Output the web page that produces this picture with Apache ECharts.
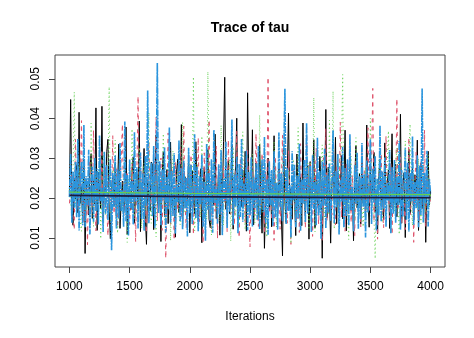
<!DOCTYPE html>
<html>
<head>
<meta charset="utf-8">
<script src="https://cdn.jsdelivr.net/npm/echarts@6/dist/echarts.min.js"></script>
<style>
html,body{margin:0;padding:0;background:#fff;}
#chart{width:474px;height:338px;}
</style>
</head>
<body>
<div id="chart"></div>
<script>
// Thinned trace: one value every 10 iterations from 1000 to 4000
const iterStart = 1000;
const iterStep = 10;

const chain1 = [
0.0215,0.0448,0.0176,0.0132,0.0251,0.0198,0.0284,0.0163,0.0416,0.0187,
0.0229,0.0142,0.0296,0.0061,0.0234,0.0205,0.0158,0.0271,0.0312,0.0149,
0.0243,0.0186,0.0427,0.0119,0.0265,0.0211,0.0173,0.0431,0.0143,0.0226,
0.0207,0.0318,0.0348,0.0167,0.0098,0.0221,0.0256,0.0181,0.0287,0.0152,
0.0233,0.0336,0.0124,0.0195,0.0243,0.0162,0.0189,0.0379,0.0109,0.0214,
0.0228,0.0171,0.0264,0.0304,0.0137,0.0219,0.0262,0.0184,0.0394,0.0116,
0.0198,0.0247,0.0325,0.0156,0.0084,0.0247,0.0203,0.0168,0.0291,0.0283,
0.0121,0.0236,0.0359,0.0192,0.0174,0.0238,0.0091,0.0257,0.0316,0.0154,
0.0208,0.0272,0.0136,0.0224,0.0341,0.0183,0.0199,0.0226,0.0102,0.0268,
0.0298,0.0164,0.0212,0.0385,0.0129,0.0241,0.0254,0.0176,0.0193,0.0308,
0.0113,0.0227,0.0269,0.0197,0.0161,0.0342,0.0216,0.0141,0.0231,0.0274,
0.0088,0.0209,0.0277,0.0186,0.0239,0.0322,0.0147,0.0126,0.0245,0.0202,
0.0182,0.0361,0.0149,0.0213,0.0266,0.0107,0.0259,0.0188,0.0342,0.0504,
0.0172,0.0222,0.0294,0.0161,0.0204,0.0336,0.0122,0.0238,0.0276,0.0401,
0.0144,0.0218,0.0253,0.0179,0.0271,0.0192,0.0318,0.0117,0.0465,0.0249,
0.0166,0.0211,0.0372,0.0133,0.0221,0.0289,0.0185,0.0154,0.0335,0.0206,
0.0112,0.0262,0.0074,0.0187,0.0231,0.0301,0.0173,0.0246,0.0128,0.0219,
0.0357,0.0195,0.0233,0.0159,0.0284,0.0214,0.0158,0.0055,0.0326,0.0191,
0.0139,0.0267,0.0414,0.0178,0.0224,0.0147,0.0252,0.0201,0.0106,0.0311,
0.0179,0.0236,0.0253,0.0131,0.0389,0.0194,0.0163,0.0236,0.0283,0.0097,
0.0292,0.0184,0.0217,0.0347,0.0125,0.0258,0.0199,0.0169,0.0305,0.0238,
0.0049,0.0241,0.0196,0.0423,0.0151,0.0278,0.0213,0.0087,0.0232,0.0266,
0.0196,0.0353,0.0136,0.0264,0.0182,0.0218,0.0307,0.0148,0.0229,0.0371,
0.0118,0.0246,0.0203,0.0285,0.0169,0.0226,0.0093,0.0251,0.0332,0.0176,
0.0214,0.0262,0.0135,0.0298,0.0187,0.0242,0.0156,0.0384,0.0201,0.0127,
0.0273,0.0191,0.0233,0.0315,0.0164,0.0208,0.0111,0.0256,0.0295,0.0181,
0.0224,0.0146,0.0339,0.0197,0.0235,0.0271,0.0124,0.0218,0.0362,0.0172,
0.0206,0.0285,0.0153,0.0243,0.0189,0.0411,0.0137,0.0229,0.0264,0.0101,
0.0248,0.0193,0.0323,0.0161,0.0217,0.0277,0.0145,0.0259,0.0202,0.0346,
0.0119,0.0231,0.0288,0.0174,0.0212,0.0263,0.0089,0.0244,0.0318,0.0183,
0.0218];

const chain2 = [
0.0187,0.0226,0.0263,0.0154,0.0121,0.0348,0.0203,0.0172,0.0241,0.0229,
0.0395,0.0168,0.0139,0.0254,0.0217,0.0083,0.0271,0.0296,0.0182,0.0165,
0.0371,0.0209,0.0118,0.0247,0.0241,0.0193,0.0199,0.0322,0.0146,0.0235,
0.0278,0.0174,0.0106,0.0258,0.0233,0.0188,0.0357,0.0161,0.0212,0.0274,
0.0127,0.0241,0.0219,0.0302,0.0386,0.0157,0.0152,0.0243,0.0267,0.0196,
0.0134,0.0228,0.0288,0.0176,0.0213,0.0091,0.0264,0.0456,0.0205,0.0317,
0.0183,0.0205,0.0263,0.0143,0.0113,0.0252,0.0339,0.0182,0.0221,0.0169,
0.0301,0.0251,0.0404,0.0143,0.0226,0.0192,0.0301,0.0119,0.0268,0.0236,
0.0049,0.0188,0.0364,0.0214,0.0131,0.0237,0.0273,0.0095,0.0292,0.0208,
0.0171,0.0249,0.0328,0.0154,0.0212,0.0381,0.0186,0.0126,0.0249,0.0231,
0.0163,0.0309,0.0197,0.0108,0.0276,0.0224,0.0195,0.0352,0.0141,0.0228,
0.0259,0.0087,0.0314,0.0207,0.0178,0.0259,0.0397,0.0166,0.0123,0.0244,
0.0216,0.0167,0.0331,0.0099,0.0283,0.0238,0.0206,0.0149,0.0277,0.0185,
0.0238,0.0116,0.0346,0.0211,0.0159,0.0271,0.0201,0.0132,0.0223,0.0368,
0.0181,0.0101,0.0297,0.0227,0.0174,0.0256,0.0138,0.0219,0.0325,0.0192,
0.0078,0.0245,0.0281,0.0173,0.0157,0.0362,0.0215,0.0129,0.0247,0.0183,
0.0313,0.0221,0.0111,0.0266,0.0201,0.0504,0.0162,0.0234,0.0145,0.0235,
0.0094,0.0305,0.0213,0.0168,0.0274,0.0122,0.0239,0.0358,0.0189,0.0209,
0.0252,0.0137,0.0319,0.0226,0.0084,0.0229,0.0275,0.0175,0.0198,0.0148,
0.0261,0.0114,0.0337,0.0193,0.0245,0.0208,0.0126,0.0383,0.0162,0.0227,
0.0289,0.0217,0.0104,0.0289,0.0171,0.0326,0.0203,0.0135,0.0248,0.0224,
0.0092,0.0302,0.0186,0.0375,0.0144,0.0231,0.0264,0.0197,0.0158,0.0316,
0.0212,0.0133,0.0279,0.0241,0.0168,0.0391,0.0152,0.0236,0.0205,0.0117,
0.0286,0.0194,0.0221,0.0343,0.0139,0.0258,0.0177,0.0106,0.0293,0.0216,
0.0186,0.0241,0.0128,0.0327,0.0203,0.0269,0.0155,0.0232,0.0377,0.0164,
0.0219,0.0292,0.0476,0.0142,0.0254,0.0191,0.0097,0.0268,0.0229,0.0312,
0.0173,0.0126,0.0249,0.0356,0.0197,0.0222,0.0151,0.0287,0.0109,0.0238,
0.0265,0.0184,0.0450,0.0171,0.0217,0.0303,0.0136,0.0246,0.0199,0.0121,
0.0274,0.0225,0.0352,0.0158,0.0191,0.0263,0.0089,0.0238,0.0316,0.0182,
0.0207,0.0146,0.0295,0.0232,0.0176,0.0371,0.0129,0.0253,0.0214,0.0188,
0.0197];

const chain3 = [
0.0224,0.0187,0.0153,0.0262,0.0467,0.0179,0.0196,0.0241,0.0284,0.0139,
0.0117,0.0258,0.0337,0.0201,0.0172,0.0226,0.0241,0.0165,0.0389,0.0208,
0.0129,0.0245,0.0263,0.0192,0.0186,0.0311,0.0098,0.0227,0.0315,0.0174,
0.0158,0.0236,0.0227,0.0480,0.0141,0.0218,0.0272,0.0195,0.0346,0.0163,
0.0112,0.0239,0.0253,0.0187,0.0167,0.0274,0.0304,0.0209,0.0089,0.0248,
0.0237,0.0182,0.0374,0.0215,0.0148,0.0261,0.0216,0.0138,0.0328,0.0197,
0.0124,0.0252,0.0289,0.0171,0.0179,0.0296,0.0416,0.0184,0.0137,0.0233,
0.0245,0.0161,0.0103,0.0279,0.0297,0.0192,0.0183,0.0249,0.0362,0.0144,
0.0151,0.0226,0.0228,0.0332,0.0093,0.0214,0.0319,0.0187,0.0174,0.0259,
0.0266,0.0156,0.0133,0.0272,0.0391,0.0198,0.0162,0.0231,0.0239,0.0178,
0.0287,0.0209,0.0221,0.0505,0.0118,0.0203,0.0287,0.0244,0.0194,0.0152,
0.0356,0.0221,0.0168,0.0243,0.0146,0.0518,0.0221,0.0171,0.0107,0.0264,
0.0308,0.0193,0.0169,0.0236,0.0257,0.0142,0.0383,0.0207,0.0132,0.0251,
0.0244,0.0183,0.0187,0.0298,0.0092,0.0226,0.0329,0.0179,0.0155,0.0266,
0.0273,0.0132,0.0206,0.0242,0.0367,0.0187,0.0121,0.0234,0.0249,0.0161,
0.0176,0.0277,0.0311,0.0203,0.0138,0.0219,0.0232,0.0148,0.0409,0.0196,
0.0164,0.0249,0.0285,0.0181,0.0102,0.0236,0.0258,0.0211,0.0191,0.0141,
0.0343,0.0224,0.0127,0.0268,0.0236,0.0185,0.0179,0.0302,0.0321,0.0157,
0.0145,0.0239,0.0269,0.0201,0.0086,0.0253,0.0298,0.0164,0.0202,0.0231,
0.0377,0.0174,0.0134,0.0246,0.0251,0.0197,0.0168,0.0285,0.0292,0.0121,
0.0292,0.0218,0.0193,0.0453,0.0115,0.0229,0.0243,0.0176,0.0185,0.0267,
0.0334,0.0197,0.0149,0.0238,0.0227,0.0158,0.0396,0.0211,0.0185,0.0469,
0.0123,0.0244,0.0261,0.0172,0.0177,0.0309,0.0318,0.0511,0.0139,0.0236,
0.0248,0.0181,0.0096,0.0275,0.0306,0.0204,0.0192,0.0143,0.0352,0.0229,
0.0157,0.0263,0.0234,0.0189,0.0128,0.0252,0.0279,0.0167,0.0183,0.0214,
0.0401,0.0218,0.0265,0.0152,0.0048,0.0247,0.0171,0.0293,0.0313,0.0186,
0.0142,0.0238,0.0254,0.0198,0.0198,0.0369,0.0215,0.0116,0.0256,0.0238,
0.0166,0.0284,0.0327,0.0173,0.0109,0.0242,0.0276,0.0207,0.0189,0.0344,
0.0153,0.0229,0.0229,0.0386,0.0172,0.0131,0.0261,0.0262,0.0193,0.0174,
0.0299,0.0222,0.0136,0.0257,0.0284,0.0188,0.0164,0.0231,0.0309,0.0178,
0.0208];

const chain4 = [
0.0203,0.0312,0.0138,0.0267,0.0176,0.0291,0.0152,0.0349,0.0119,0.0238,
0.0291,0.0132,0.0384,0.0127,0.0255,0.0183,0.0322,0.0109,0.0246,0.0279,
0.0141,0.0301,0.0167,0.0274,0.0134,0.0358,0.0192,0.0226,0.0115,0.0317,
0.0161,0.0283,0.0145,0.0236,0.0298,0.0069,0.0263,0.0178,0.0307,0.0124,
0.0272,0.0149,0.0339,0.0168,0.0219,0.0128,0.0393,0.0142,0.0258,0.0106,
0.0297,0.0175,0.0244,0.0133,0.0366,0.0191,0.0278,0.0124,0.0231,0.0315,
0.0148,0.0262,0.0118,0.0306,0.0181,0.0471,0.0137,0.0237,0.0289,0.0154,
0.0331,0.0126,0.0249,0.0540,0.0163,0.0293,0.0131,0.0272,0.0196,0.0328,
0.0114,0.0253,0.0172,0.0378,0.0139,0.0268,0.0155,0.0313,0.0111,0.0234,
0.0189,0.0345,0.0143,0.0276,0.0122,0.0294,0.0174,0.0251,0.0104,0.0327,
0.0162,0.0285,0.0135,0.0223,0.0361,0.0149,0.0279,0.0117,0.0256,0.0185,
0.0309,0.0128,0.0241,0.0093,0.0336,0.0171,0.0264,0.0144,0.0298,0.0113,
0.0372,0.0188,0.0229,0.0136,0.0285,0.0159,0.0321,0.0107,0.0248,0.0193,
0.0342,0.0125,0.0271,0.0166,0.0233,0.0398,0.0132,0.0259,0.0179,0.0304,
0.0112,0.0286,0.0153,0.0349,0.0141,0.0237,0.0184,0.0319,0.0119,0.0266,
0.0158,0.0303,0.0129,0.0252,0.0175,0.0287,0.0146,0.0331,0.0122,0.0214,
0.0297,0.0165,0.0354,0.0138,0.0247,0.0108,0.0293,0.0183,0.0271,0.0131,
0.0318,0.0152,0.0239,0.0121,0.0365,0.0177,0.0262,0.0142,0.0305,0.0475,
0.0134,0.0275,0.0168,0.0233,0.0102,0.0318,0.0195,0.0284,0.0127,0.0257,
0.0149,0.0337,0.0118,0.0246,0.0186,0.0296,0.0139,0.0389,0.0161,0.0224,
0.0281,0.0115,0.0308,0.0173,0.0242,0.0132,0.0352,0.0156,0.0269,0.0098,
0.0292,0.0181,0.0324,0.0124,0.0258,0.0163,0.0287,0.0143,0.0235,0.0371,
0.0137,0.0268,0.0177,0.0311,0.0109,0.0245,0.0192,0.0329,0.0126,0.0276,
0.0155,0.0298,0.0131,0.0361,0.0169,0.0228,0.0117,0.0283,0.0186,0.0314,
0.0123,0.0256,0.0147,0.0339,0.0178,0.0261,0.0101,0.0295,0.0164,0.0232,
0.0348,0.0135,0.0274,0.0188,0.0306,0.0119,0.0249,0.0157,0.0383,0.0141,
0.0267,0.0173,0.0302,0.0128,0.0239,0.0194,0.0321,0.0112,0.0278,0.0161,
0.0296,0.0138,0.0253,0.0182,0.0344,0.0121,0.0271,0.0154,0.0226,0.0327,
0.0146,0.0289,0.0116,0.0263,0.0191,0.0356,0.0133,0.0242,0.0175,0.0308,
0.0127,0.0282,0.0158,0.0476,0.0139,0.0264,0.0187,0.0319,0.0129,0.0248,
0.0212];

// Smoothed trend lines, read at these iterations
const smoothIters = [1000, 2000, 3000, 4000];
const smooth1 = [0.0207, 0.0204, 0.0202, 0.0201];
const smooth3 = [0.0215, 0.0212, 0.0210, 0.0209];

const xTicks = [1000, 1500, 2000, 2500, 3000, 3500, 4000];
const yTicks = [0.01, 0.02, 0.03, 0.04, 0.05];

const chainColors = ['#000000', '#DF536B', '#61D04F', '#2B95DD'];
const chainDash = ['solid', [4, 4], [1, 3], [7, 1, 2, 1]];
const chainWidth = [1, 1, 1, 1.6];

function pairs(arr) {
  return arr.map((v, i) => [iterStart + i * iterStep, v]);
}
function pairsAt(xs, ys) {
  return ys.map((v, i) => [xs[i], v]);
}

const chains = [chain1, chain2, chain3, chain4];
const series = chains.map((c, k) => ({
  type: 'line',
  data: pairs(c),
  showSymbol: false,
  symbol: 'none',
  silent: true,
  lineStyle: { color: chainColors[k], width: chainWidth[k], type: chainDash[k] }
}));
series.push({
  type: 'line', data: pairsAt(smoothIters, smooth1), symbol: 'none', silent: true,
  lineStyle: { color: '#1a1a40', width: 1.6 }
});
series.push({
  type: 'line', data: pairsAt(smoothIters, smooth3), symbol: 'none', silent: true,
  lineStyle: { color: '#61D04F', width: 1.2 }
});

const font = 'Liberation Sans, Arial, Helvetica, sans-serif';
const chart = echarts.init(document.getElementById('chart'), null, { renderer: 'canvas' });
chart.setOption({
  animation: false,
  backgroundColor: '#ffffff',
  grid: { left: 55, top: 55, right: 29, bottom: 71, show: true, borderColor: '#444', borderWidth: 1, backgroundColor: 'transparent' },
  graphic: [
    { type: 'text', x: 250, y: 28, style: { text: 'Trace of tau', font: 'bold 14px ' + font, fill: '#000', textAlign: 'center', textVerticalAlign: 'middle' } },
    { type: 'text', x: 250, y: 317, style: { text: 'Iterations', font: '12px ' + font, fill: '#000', textAlign: 'center', textVerticalAlign: 'middle' } }
  ],
  xAxis: {
    type: 'value', min: 880, max: 4120,
    axisLine: { show: false },
    splitLine: { show: false },
    axisTick: { show: true, length: 6, inside: false, customValues: xTicks, lineStyle: { color: '#444' } },
    axisLabel: { customValues: xTicks, margin: 14, fontSize: 12, fontFamily: font, color: '#000', formatter: v => String(v) }
  },
  yAxis: {
    type: 'value', min: 0.0027, max: 0.056,
    axisLine: { show: false },
    splitLine: { show: false },
    axisTick: { show: true, length: 6, inside: false, customValues: yTicks, lineStyle: { color: '#444' } },
    axisLabel: { customValues: yTicks, rotate: 90, margin: 13, fontSize: 12, fontFamily: font, color: '#000', formatter: v => v.toFixed(2) }
  },
  series: series
});
</script>
</body>
</html>
